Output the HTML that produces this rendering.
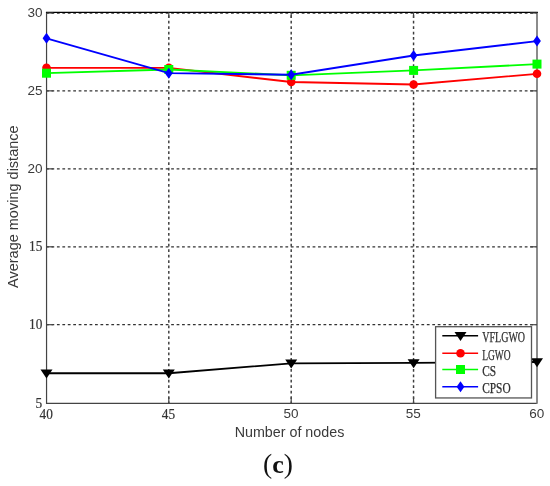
<!DOCTYPE html>
<html><head><meta charset="utf-8"><title>Average moving distance</title>
<style>
html,body{margin:0;padding:0;background:#fff;}
body{width:550px;height:486px;overflow:hidden;}
svg{display:block;}
.h{font-family:"Liberation Sans",Arial,sans-serif;fill:#3a3a3a;}
.s{font-family:"Liberation Serif","Noto Serif CJK SC",serif;fill:#333;}
.m{font-family:"Liberation Mono","Noto Serif CJK SC",monospace;fill:#222;}
.cap{font-family:"Liberation Serif",serif;fill:#111;}
</style></head><body>
<svg width="550" height="486" viewBox="0 0 550 486">
<rect width="550" height="486" fill="#fff"/>
<g stroke="#333" stroke-width="1.3" stroke-dasharray="2.75 2.69" fill="none">
<line x1="168.8" y1="12.2" x2="168.8" y2="403.2" stroke-dashoffset="2.3" stroke="#3c3c3c" stroke-width="1.45"/>
<line x1="291.2" y1="12.2" x2="291.2" y2="403.2" stroke-dashoffset="2.3" stroke="#3c3c3c" stroke-width="1.45"/>
<line x1="413.55" y1="12.2" x2="413.55" y2="403.2" stroke-dashoffset="2.3" stroke="#3c3c3c" stroke-width="1.45"/>
<line x1="46.55" y1="324.7" x2="537.0" y2="324.7" stroke-dashoffset="0.5"/>
<line x1="46.55" y1="246.8" x2="537.0" y2="246.8" stroke-dashoffset="0.5"/>
<line x1="46.55" y1="168.85" x2="537.0" y2="168.85" stroke-dashoffset="0.5"/>
<line x1="46.55" y1="90.85" x2="537.0" y2="90.85" stroke-dashoffset="0.5"/>
<line x1="46.55" y1="13.0" x2="537.0" y2="13.0" stroke-dashoffset="0.5"/>
</g>
<g stroke="#444" stroke-width="1.2" fill="none">
<polyline points="46.55,12.2 46.55,403.4 537.0,403.4"/>
<line x1="537.0" y1="403.8" x2="537.0" y2="12.2" stroke="#777" stroke-width="1.7"/>
<line x1="45.949999999999996" y1="12.399999999999999" x2="537.8" y2="12.399999999999999" stroke="#000" stroke-width="1.25"/>
<line x1="168.8" y1="403.2" x2="168.8" y2="397.2"/>
<line x1="168.8" y1="12.2" x2="168.8" y2="18.0"/>
<line x1="291.2" y1="403.2" x2="291.2" y2="397.2"/>
<line x1="291.2" y1="12.2" x2="291.2" y2="18.0"/>
<line x1="413.55" y1="403.2" x2="413.55" y2="397.2"/>
<line x1="413.55" y1="12.2" x2="413.55" y2="18.0"/>
<line x1="46.55" y1="324.7" x2="53.349999999999994" y2="324.7"/>
<line x1="537.0" y1="324.7" x2="530.2" y2="324.7"/>
<line x1="46.55" y1="246.8" x2="53.349999999999994" y2="246.8"/>
<line x1="537.0" y1="246.8" x2="530.2" y2="246.8"/>
<line x1="46.55" y1="168.85" x2="53.349999999999994" y2="168.85"/>
<line x1="537.0" y1="168.85" x2="530.2" y2="168.85"/>
<line x1="46.55" y1="90.85" x2="53.349999999999994" y2="90.85"/>
<line x1="537.0" y1="90.85" x2="530.2" y2="90.85"/>
<line x1="46.55" y1="13.0" x2="53.349999999999994" y2="13.0"/>
<line x1="537.0" y1="13.0" x2="530.2" y2="13.0"/>
</g>
<polyline points="46.5,373.2 168.8,373.2 291.2,363.3 413.6,362.9 537.0,362.0" fill="none" stroke="#000" stroke-width="1.85"/>
<polygon points="40.5,369.5 52.5,369.5 46.5,378.5" fill="#000"/>
<polygon points="162.8,369.5 174.8,369.5 168.8,378.5" fill="#000"/>
<polygon points="285.2,359.6 297.2,359.6 291.2,368.6" fill="#000"/>
<polygon points="407.6,359.2 419.6,359.2 413.6,368.2" fill="#000"/>
<polygon points="531.0,358.3 543.0,358.3 537.0,367.3" fill="#000"/>
<polyline points="46.5,67.8 168.8,67.9 291.2,82.0 413.6,84.5 537.0,73.8" fill="none" stroke="#f00" stroke-width="1.85"/>
<circle cx="46.5" cy="67.8" r="4.3" fill="#f00"/>
<circle cx="168.8" cy="67.9" r="4.3" fill="#f00"/>
<circle cx="291.2" cy="82.0" r="4.3" fill="#f00"/>
<circle cx="413.6" cy="84.5" r="4.3" fill="#f00"/>
<circle cx="537.0" cy="73.8" r="4.3" fill="#f00"/>
<polyline points="46.5,73.2 168.8,69.5 291.2,75.3 413.6,70.4 537.0,64.1" fill="none" stroke="#0f0" stroke-width="1.85"/>
<rect x="42.0" y="68.7" width="9" height="9" fill="#0f0"/>
<rect x="164.3" y="65.0" width="9" height="9" fill="#0f0"/>
<rect x="286.7" y="70.8" width="9" height="9" fill="#0f0"/>
<rect x="409.1" y="65.9" width="9" height="9" fill="#0f0"/>
<rect x="532.5" y="59.6" width="9" height="9" fill="#0f0"/>
<polyline points="46.5,38.3 168.8,73.2 291.2,74.7 413.6,55.5 537.0,41.1" fill="none" stroke="#00f" stroke-width="1.85"/>
<polygon points="46.5,32.8 50.4,38.3 46.5,43.8 42.6,38.3" fill="#00f"/>
<polygon points="168.8,67.7 172.7,73.2 168.8,78.7 164.9,73.2" fill="#00f"/>
<polygon points="291.2,69.2 295.1,74.7 291.2,80.2 287.3,74.7" fill="#00f"/>
<polygon points="413.6,50.0 417.4,55.5 413.6,61.0 409.7,55.5" fill="#00f"/>
<polygon points="537.0,35.6 540.9,41.1 537.0,46.6 533.1,41.1" fill="#00f"/>
<rect x="435.6" y="326.7" width="95.9" height="71.25" fill="#fff" stroke="#555" stroke-width="1.3"/>
<line x1="442.3" y1="335.7" x2="478.1" y2="335.7" stroke="#000" stroke-width="1.6"/>
<polygon points="454.5,332.0 466.5,332.0 460.5,341.0" fill="#000"/>
<text class="s" x="482.2" y="342.0" font-size="13.8" stroke="#222" stroke-width="0.25" textLength="42.9" lengthAdjust="spacingAndGlyphs">VFLGWO</text>
<line x1="442.3" y1="353.3" x2="478.1" y2="353.3" stroke="#f00" stroke-width="1.6"/>
<circle cx="460.5" cy="353.3" r="4.3" fill="#f00"/>
<text class="s" x="482.2" y="359.6" font-size="13.8" stroke="#222" stroke-width="0.25" textLength="28.4" lengthAdjust="spacingAndGlyphs">LGWO</text>
<line x1="442.3" y1="369.5" x2="478.1" y2="369.5" stroke="#0f0" stroke-width="1.6"/>
<rect x="456.0" y="365.0" width="9" height="9" fill="#0f0"/>
<text class="s" x="482.2" y="375.8" font-size="13.8" stroke="#222" stroke-width="0.25" textLength="13.9" lengthAdjust="spacingAndGlyphs">CS</text>
<line x1="442.3" y1="386.8" x2="478.1" y2="386.8" stroke="#00f" stroke-width="1.6"/>
<polygon points="460.5,381.3 464.4,386.8 460.5,392.3 456.6,386.8" fill="#00f"/>
<text class="s" x="482.2" y="393.1" font-size="13.8" stroke="#222" stroke-width="0.25" textLength="28.4" lengthAdjust="spacingAndGlyphs">CPSO</text>
<text class="h" x="42.6" y="17.2" font-size="13.5" text-anchor="end">30</text>
<text class="h" x="42.6" y="94.8" font-size="13.5" text-anchor="end">25</text>
<text class="h" x="42.6" y="172.8" font-size="13.5" text-anchor="end">20</text>
<text class="s" x="42.3" y="250.9" font-size="14.8" text-anchor="end" stroke="#333" stroke-width="0.2" textLength="13.3" lengthAdjust="spacingAndGlyphs">15</text>
<text class="s" x="42.3" y="329.0" font-size="14.8" text-anchor="end" stroke="#333" stroke-width="0.2" textLength="13.3" lengthAdjust="spacingAndGlyphs">10</text>
<text class="s" x="42.3" y="407.9" font-size="14.8" text-anchor="end" stroke="#333" stroke-width="0.2" textLength="6.7" lengthAdjust="spacingAndGlyphs">5</text>
<text class="s" x="46.2" y="418.7" font-size="14.8" text-anchor="middle" stroke="#333" stroke-width="0.2" textLength="13.3" lengthAdjust="spacingAndGlyphs">40</text>
<text class="s" x="168.5" y="418.7" font-size="14.8" text-anchor="middle" stroke="#333" stroke-width="0.2" textLength="13.3" lengthAdjust="spacingAndGlyphs">45</text>
<text class="h" x="290.9" y="418.3" font-size="13.5" text-anchor="middle">50</text>
<text class="h" x="413.2" y="418.3" font-size="13.5" text-anchor="middle">55</text>
<text class="h" x="536.7" y="418.3" font-size="13.5" text-anchor="middle">60</text>
<text class="h" x="289.5" y="437" font-size="14.3" text-anchor="middle">Number of nodes</text>
<text class="h" transform="translate(18.2,206.7) rotate(-90)" font-size="14.5" text-anchor="middle">Average moving distance</text>
<text class="cap" x="278" y="472.8" font-size="26" text-anchor="middle"><tspan font-size="27.5">(</tspan><tspan font-weight="bold">c</tspan><tspan font-size="27.5">)</tspan></text>
</svg></body></html>
